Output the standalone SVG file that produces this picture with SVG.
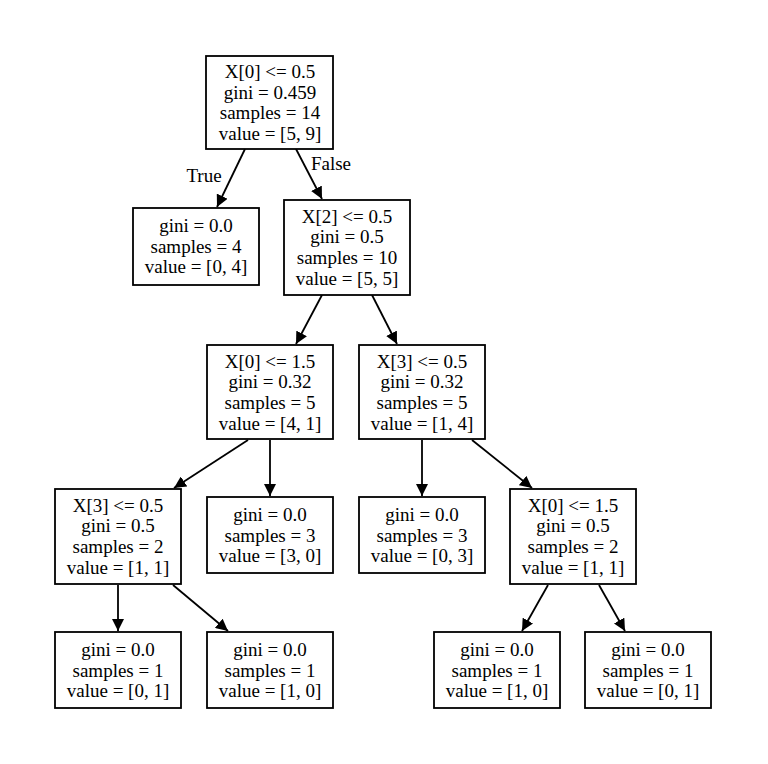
<svg xmlns="http://www.w3.org/2000/svg" width="768" height="764" viewBox="0 0 768 764">
<style>
rect{fill:#fff;stroke:#000;stroke-width:1.8}
text{font-family:"Liberation Serif","Times New Roman",serif;font-size:19px;text-anchor:middle;fill:#000}
.c line{stroke:#000;stroke-width:1.8}
</style>
<defs><marker id="a" markerWidth="12" markerHeight="12" refX="12" refY="6" orient="auto" markerUnits="userSpaceOnUse"><path d="M0,0L12,6L0,12z" fill="#000"/></marker></defs>
<rect x="0" y="0" width="768" height="764" style="stroke:none"/>
<g class="c">
<line x1="245" y1="149" x2="217" y2="207" marker-end="url(#a)"/>
<line x1="296" y1="149" x2="322" y2="199" marker-end="url(#a)"/>
<line x1="322" y1="295" x2="296" y2="344" marker-end="url(#a)"/>
<line x1="372" y1="295" x2="397" y2="344" marker-end="url(#a)"/>
<line x1="248" y1="440" x2="174" y2="488" marker-end="url(#a)"/>
<line x1="270" y1="440" x2="270" y2="496" marker-end="url(#a)"/>
<line x1="422" y1="440" x2="422" y2="496" marker-end="url(#a)"/>
<line x1="472" y1="440" x2="532" y2="488" marker-end="url(#a)"/>
<line x1="118" y1="585" x2="118" y2="631" marker-end="url(#a)"/>
<line x1="173" y1="585" x2="228" y2="631" marker-end="url(#a)"/>
<line x1="548" y1="585" x2="522" y2="631" marker-end="url(#a)"/>
<line x1="599" y1="585" x2="625" y2="631" marker-end="url(#a)"/>
<text x="204" y="182">True</text>
<text x="331" y="170">False</text>
</g>
<g id="n0"><rect x="206" y="56" width="127" height="93"/><text x="270" y="78">X[0] &lt;= 0.5</text><text x="270" y="99">gini = 0.459</text><text x="270" y="119">samples = 14</text><text x="270" y="140">value = [5, 9]</text></g>
<g id="n1"><rect x="133" y="208" width="126" height="77"/><text x="196" y="232">gini = 0.0</text><text x="196" y="253">samples = 4</text><text x="196" y="273">value = [0, 4]</text></g>
<g id="n2"><rect x="284" y="200" width="126" height="95"/><text x="347" y="223">X[2] &lt;= 0.5</text><text x="347" y="243">gini = 0.5</text><text x="347" y="264">samples = 10</text><text x="347" y="285">value = [5, 5]</text></g>
<g id="n3"><rect x="207" y="345" width="126" height="94"/><text x="270" y="368">X[0] &lt;= 1.5</text><text x="270" y="388">gini = 0.32</text><text x="270" y="409">samples = 5</text><text x="270" y="430">value = [4, 1]</text></g>
<g id="n4"><rect x="359" y="345" width="126" height="94"/><text x="422" y="368">X[3] &lt;= 0.5</text><text x="422" y="388">gini = 0.32</text><text x="422" y="409">samples = 5</text><text x="422" y="430">value = [1, 4]</text></g>
<g id="n5"><rect x="55" y="489" width="126" height="95"/><text x="118" y="512">X[3] &lt;= 0.5</text><text x="118" y="532">gini = 0.5</text><text x="118" y="553">samples = 2</text><text x="118" y="574">value = [1, 1]</text></g>
<g id="n6"><rect x="207" y="497" width="126" height="76"/><text x="270" y="521">gini = 0.0</text><text x="270" y="542">samples = 3</text><text x="270" y="562">value = [3, 0]</text></g>
<g id="n7"><rect x="359" y="497" width="126" height="76"/><text x="422" y="521">gini = 0.0</text><text x="422" y="542">samples = 3</text><text x="422" y="562">value = [0, 3]</text></g>
<g id="n8"><rect x="510" y="489" width="126" height="95"/><text x="573" y="512">X[0] &lt;= 1.5</text><text x="573" y="532">gini = 0.5</text><text x="573" y="553">samples = 2</text><text x="573" y="574">value = [1, 1]</text></g>
<g id="n9"><rect x="55" y="632" width="126" height="76"/><text x="118" y="656">gini = 0.0</text><text x="118" y="677">samples = 1</text><text x="118" y="697">value = [0, 1]</text></g>
<g id="n10"><rect x="207" y="632" width="126" height="76"/><text x="270" y="656">gini = 0.0</text><text x="270" y="677">samples = 1</text><text x="270" y="697">value = [1, 0]</text></g>
<g id="n11"><rect x="434" y="632" width="126" height="76"/><text x="497" y="656">gini = 0.0</text><text x="497" y="677">samples = 1</text><text x="497" y="697">value = [1, 0]</text></g>
<g id="n12"><rect x="585" y="632" width="126" height="76"/><text x="648" y="656">gini = 0.0</text><text x="648" y="677">samples = 1</text><text x="648" y="697">value = [0, 1]</text></g>
</svg>
